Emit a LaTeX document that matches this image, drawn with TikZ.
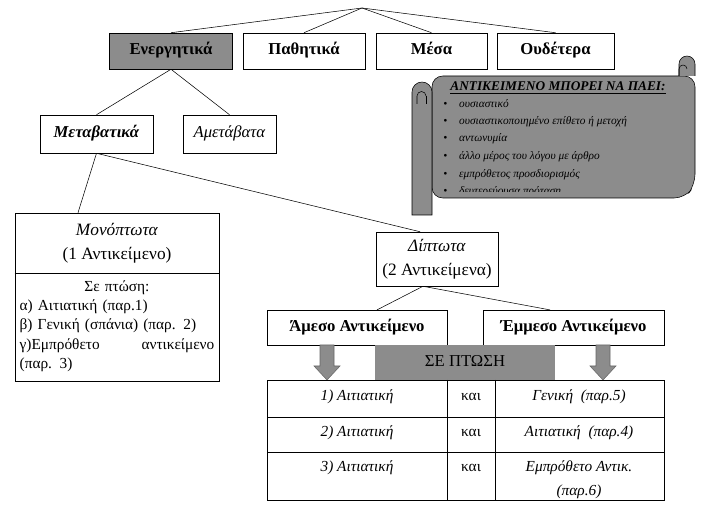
\documentclass[tikz,border=0pt]{standalone}
\usepackage{fontspec}
\setmainfont{Liberation Serif}
\begin{document}
\begin{tikzpicture}[x=0.75pt,y=-0.75pt]
\tikzset{box/.style={draw=black,inner sep=0pt,align=center,font=\fontsize{12.5}{15}\selectfont},
         line/.style={text height=1.6ex,text depth=0.4ex},
         shade/.style={fill=black!45},
         cell/.style={inner sep=0pt,align=center,font=\fontsize{11.5}{15}\selectfont}}
\useasboundingbox (0,0) rectangle (714,509);
\coordinate (top) at (362,8);
% top row
\node [box,line,shade,minimum width=92pt,minimum height=27pt] (act) at (171,51) {\textbf{Ενεργητικά}};
\node [box,line,minimum width=91.5pt,minimum height=27pt] (pas) at (304,51) {\textbf{Παθητικά}};
\node [box,line,minimum width=83pt,minimum height=27pt] (mid) at (431.5,51) {\textbf{Μέσα}};
\node [box,line,minimum width=88pt,minimum height=27pt] (neu) at (555.5,51) {\textbf{Ουδέτερα}};
\draw (top) -- (act.north);
\draw (top) -- (pas.north);
\draw (top) -- (mid.north);
\draw (top) -- (neu.north);
% second row
\node [box,line,minimum width=85pt,minimum height=28.5pt] (tr) at (96.5,134) {\textbf{\textit{Μεταβατικά}}};
\node [box,line,minimum width=70pt,minimum height=28.5pt] (intr) at (229.5,134) {\textit{Αμετάβατα}};
\draw (act.south) -- (tr.north);
\draw (act.south) -- (intr.north);
% scroll
\fill [black!45,draw=black,rounded corners=8pt] (432,76) -- (695,76) -- (695,185) -- (685,198) -- (432,198) -- cycle;
\fill [black!45,draw=black] (695,76) -- (695,64) arc (0:-180:8) -- (679,76);
\draw (687,69) arc (0:-180:4) -- (679,76);
\fill [black!45,draw=black] (412,92) arc (180:360:10) -- (432,215) -- (412,215) -- cycle;
\draw (426,96) arc (0:-180:4.5) -- (417,104);
\draw (426,96) -- (426,104);
\node [font=\fontsize{10}{12}\selectfont\bfseries\itshape] (stitle) at (558,88) {\underline{ΑΝΤΙΚΕΙΜΕΝΟ ΜΠΟΡΕΙ ΝΑ ΠΑΕΙ:}};
\begin{scope}
\clip (432,92) rectangle (690,192);
\foreach \t [count=\i] in {ουσιαστικό, {ουσιαστικοποιημένο επίθετο ή μετοχή}, αντωνυμία, {άλλο μέρος του λόγου με άρθρο}, {εμπρόθετος προσδιορισμός}, {δευτερεύουσα πρόταση}}
  \node [anchor=west,inner sep=0pt,font=\fontsize{8.5}{10}\selectfont\itshape] (item\i) at (443,86+17.7*\i) {\textbullet\hspace{9pt}\t};
\end{scope}
% third row
\node [box,minimum width=153pt,minimum height=126pt] (mono) at (117,297) {};
\draw (mono.west |- 0,273) -- (mono.east |- 0,273);
\node [cell,font=\fontsize{13}{18}\selectfont] (monot) at (117,243) {\textit{Μονόπτωτα}\\(1 Αντικείμενο)};
\node [cell,anchor=north,text width=146pt,align=left,font=\fontsize{11.5}{14.5}\selectfont] (monob) at (117,280) {\hfil Σε πτώση:\hfil\\α) Αιτιατική (παρ.1)\\β) Γενική (σπάνια) (παρ. 2)\\γ)Εμπρόθετο\hfill αντικείμενο\\(παρ. 3)};
\node [box,minimum width=91.5pt,minimum height=40.5pt,font=\fontsize{13}{18}\selectfont] (dip) at (437,259) {\textit{Δίπτωτα}\\(2 Αντικείμενα)};
\draw (tr.south) -- (mono.north -| 78,0);
\draw (tr.south) -- (dip.north -| 420,0);
% objects
\node [box,line,minimum width=135pt,minimum height=26pt] (dir) at (357,327.5) {\textbf{Άμεσο Αντικείμενο}};
\node [box,line,minimum width=135.5pt,minimum height=26pt] (ind) at (573.5,327.5) {\textbf{Έμμεσο Αντικείμενο}};
\draw (dip.south -| 423,0) -- (dir.north -| 377,0);
\draw (dip.south -| 423,0) -- (ind.north -| 550,0);
\node [shade,line,inner sep=0pt,minimum width=135pt,minimum height=26pt,font=\fontsize{12.5}{15}\selectfont] (case) at (465,362.5) {ΣΕ ΠΤΩΣΗ};
\foreach \x in {327,603}
  \filldraw [fill=black!45,draw=black!60] (\x-7,345) -- (\x+7,345) -- (\x+7,366) -- (\x+13,366) -- (\x,380) -- (\x-13,366) -- (\x-7,366) -- cycle;
% table
\draw (267,380) rectangle (664,500);
\draw (267,417) -- (664,417);
\draw (267,452) -- (664,452);
\draw (447,380) -- (447,500);
\draw (495,380) -- (495,500);
\foreach \r/\y/\z in {1/397/{Γενική\ \ (παρ.5)}, 2/433/{Αιτιατική\ \ (παρ.4)}, 3/468/{Εμπρόθετο Αντικ.\\(παρ.6)}} {
  \node [cell,line] (a\r) at (357,\y) {\textit{\r) Αιτιατική}};
  \node [cell,line] (k\r) at (471,\y) {και};
  \node [cell,anchor=north,font=\fontsize{11.5}{18}\selectfont\itshape] (b\r) at (579,\y-8) {\z};
}
\end{tikzpicture}
\end{document}
